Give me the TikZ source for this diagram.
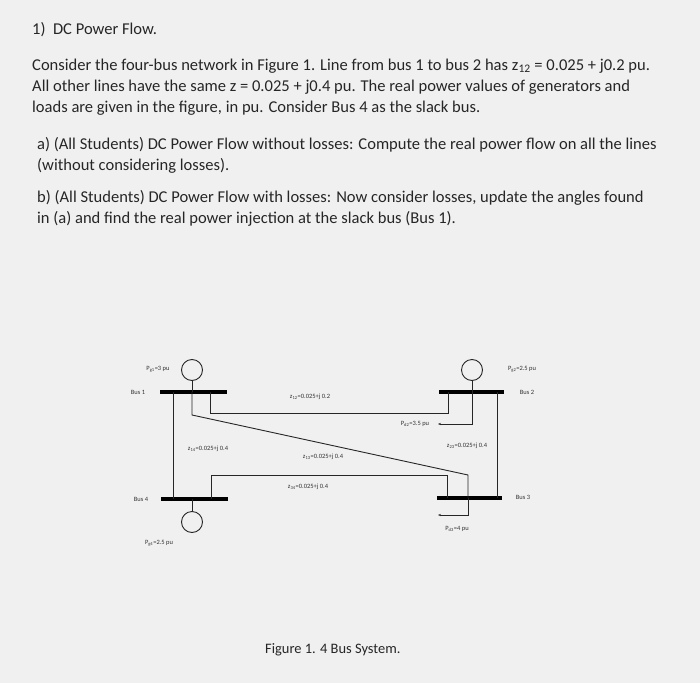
\documentclass[tikz,border=0pt]{standalone}
\usepackage{fontspec}
\setmainfont{Carlito}
\usetikzlibrary{arrows.meta}
\begin{document}
\begin{tikzpicture}[x=1bp,y=-1bp,
  txt/.style={anchor=west,inner sep=0pt,font=\fontsize{16.6}{18}\selectfont,text=black!85},
  sm/.style={inner sep=0pt,font=\fontsize{6.5}{7}\selectfont,text=black!80},
  bus/.style={line width=4bp,black},
  ln/.style={line width=0.9bp,black!85},
  gen/.style={circle,draw=black!85,line width=0.9bp,minimum size=21bp,inner sep=0pt}]
\fill[gray!12] (0,0) rectangle (700,683);
\node[txt] (t0) at (32,30) {1)\ \ DC Power Flow.};
\node[txt] (t1) at (32,66) {Consider the four-bus network in Figure 1. Line from bus 1 to bus 2 has z\textsubscript{12} = 0.025 + j0.2 pu.};
\node[txt] (t2) at (32,87) {All other lines have the same z = 0.025 + j0.4 pu. The real power values of generators and};
\node[txt] (t3) at (32,108) {loads are given in the figure, in pu. Consider Bus 4 as the slack bus.};
\node[txt] (t4) at (37,145) {a) (All Students) DC Power Flow without losses: Compute the real power flow on all the lines};
\node[txt] (t5) at (37,166) {(without considering losses).};
\node[txt] (t6) at (37,198) {b) (All Students) DC Power Flow with losses: Now consider losses, update the angles found};
\node[txt] (t7) at (37,219) {in (a) and find the real power injection at the slack bus (Bus 1).};
\node[txt,font=\fontsize{14.5}{16}\selectfont] (cap) at (265,650) {Figure 1. 4 Bus System.};
% buses
\draw[bus] (160,392) -- (227,392); \draw[bus] (439,392) -- (504,392);
\draw[bus] (161,499) -- (228,499); \draw[bus] (437,498) -- (502,498);
\node[gen] (g1) at (192,370) {}; \node[gen] (g2) at (472,370) {};
\node[gen] (g4) at (192,522) {};
\draw[ln] (g1.south) -- (192,392); \draw[ln] (g2.south) -- (472,392);
\draw[ln] (g4.north) -- (192,499);
\draw[ln] (173,392) -- (173,499);
\draw[ln] (210,392) -- (210,413) -- (448,413) -- (448,392);
\draw[ln] (192,392) -- (192,415) -- (468,475) -- (468,498);
\draw[ln] (497,392) -- (497,498);
\draw[ln] (211,499) -- (211,475) -- (447,475) -- (447,498);
\draw[ln,-{Stealth[length=3bp]}] (472,392) -- (472,424) -- (438,424);
\draw[ln,-{Stealth[length=3bp]}] (468,498) -- (468,515) -- (438,515);
% labels
\node[sm] (lg1) at (158,369) {P\textsubscript{g1}=3 pu};
\node[sm] (lg2) at (522,369) {P\textsubscript{g2}=2.5 pu};
\node[sm] (lg4) at (159,543) {P\textsubscript{g4}=2.5 pu};
\node[sm] (lb1) at (138,392) {Bus 1};
\node[sm] (lb2) at (527,392) {Bus 2};
\node[sm] (lb4) at (141,499) {Bus 4};
\node[sm] (lb3) at (523,497) {Bus 3};
\node[sm] (z12) at (310,397) {z\textsubscript{12}=0.025+j 0.2};
\node[sm] (z14) at (208,449) {z\textsubscript{14}=0.025+j 0.4};
\node[sm] (z13) at (323,457) {z\textsubscript{13}=0.025+j 0.4};
\node[sm] (z34) at (308,487) {z\textsubscript{34}=0.025+j 0.4};
\node[sm] (z23) at (467,446) {z\textsubscript{23}=0.025+j 0.4};
\node[sm] (ld2) at (415,424) {P\textsubscript{d2}=3.5 pu};
\node[sm] (ld3) at (457,529) {P\textsubscript{d3}=4 pu};
\end{tikzpicture}
\end{document}
